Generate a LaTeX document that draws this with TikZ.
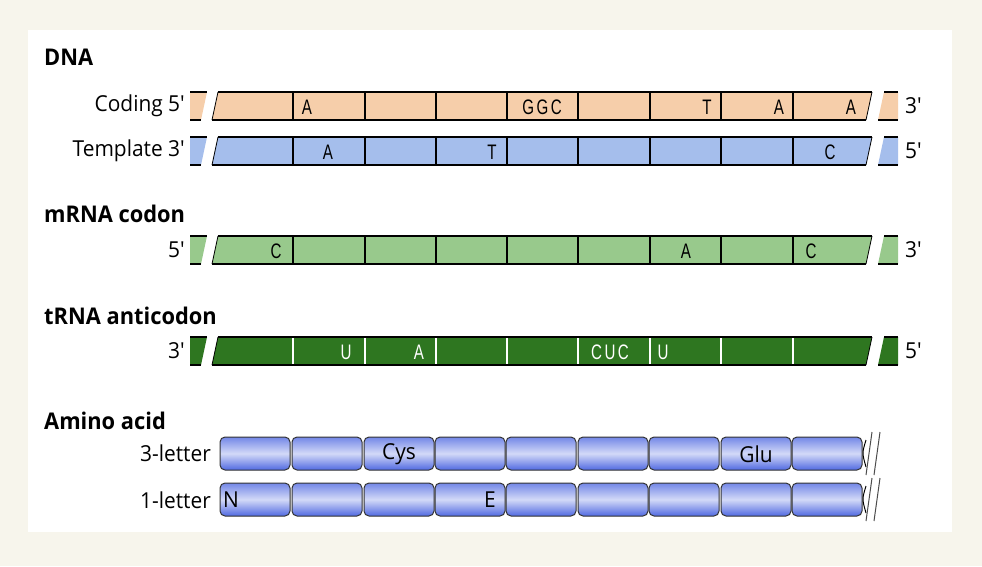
\documentclass[tikz,border=0pt]{standalone}
\usepackage{fontspec}
\setmainfont{Open Sans}
\newfontfamily\cond{Liberation Sans}
\definecolor{bgout}{RGB}{247,245,236}
\definecolor{peach}{RGB}{246,206,170}
\definecolor{tblue}{RGB}{165,190,236}
\definecolor{mgreen}{RGB}{152,201,140}
\definecolor{tgreen}{RGB}{46,118,32}
\definecolor{pblue}{RGB}{80,105,225}
\begin{document}
\begin{tikzpicture}[x=1pt,y=-1pt,
  lab/.style={font=\fontsize{22}{22}\selectfont,inner sep=0pt,xscale=0.95},
  head/.style={font=\bfseries\fontsize{23}{23}\selectfont,inner sep=0pt,anchor=west,xscale=0.95},
  base/.style={font=\cond\fontsize{21}{21}\selectfont,inner sep=0pt,xscale=0.72},
  pill/.style={rounded corners=5pt,draw=black!80,line width=1pt,top color=pblue!80,bottom color=pblue,middle color=white!75!pblue},
]
\useasboundingbox (0,0) rectangle (982,566);
\fill[bgout] (0,0) rectangle (982,566);
\fill[white] (28,30) rectangle (952,532);
\newcommand{\brow}[3]{% y top, fill, divider colour
  \fill[#2] (190,#1) -- (207,#1) -- (201,#1+28) -- (190,#1+28) -- cycle;
  \draw[line width=2pt] (190,#1) -- (207,#1) (190,#1+28) -- (201,#1+28);
  \fill[#2] (218,#1) -- (872,#1) -- (866,#1+28) -- (212,#1+28) -- cycle;
  \draw[line width=2pt] (218,#1) -- (872,#1) (212,#1+28) -- (866,#1+28);
  \draw[line width=0.8pt] (218,#1) -- (212,#1+28) (872,#1) -- (866,#1+28);
  \fill[#2] (884,#1) -- (898,#1) -- (898,#1+28) -- (878,#1+28) -- cycle;
  \draw[line width=2pt] (884,#1) -- (898,#1) (878,#1+28) -- (898,#1+28);
  \foreach \xx in {293,365,436,507,578,650,721,793}
    \draw[#3,line width=1.6pt] (\xx,#1+1) -- (\xx,#1+27);
}
\node[head] (dna) at (44,57) {DNA};
\brow{92}{peach}{black}
\node[lab,anchor=east] (lc) at (185,106) {Coding 5′};
\node[lab,anchor=west] (rc) at (905,106) {3′};
\node[base] (c1) at (307,107) {A};
\node[base] (c2) at (542,107) {G\,G\,C};
\node[base] (c3) at (707,107) {T};
\node[base] (c4) at (779,107) {A};
\node[base] (c5) at (851,107) {A};
\brow{137}{tblue}{black}
\node[lab,anchor=east] (lt) at (185,151) {Template 3′};
\node[lab,anchor=west] (rt) at (905,151) {5′};
\node[base] (t1) at (328,152) {A};
\node[base] (t2) at (492,152) {T};
\node[base] (t3) at (830,152) {C};
\node[head] (mh) at (44,214) {mRNA codon};
\brow{236}{mgreen}{black}
\node[lab,anchor=east] (lm) at (185,250) {5′};
\node[lab,anchor=west] (rm) at (905,250) {3′};
\node[base] (m1) at (276,251) {C};
\node[base] (m2) at (686,251) {A};
\node[base] (m3) at (811,251) {C};
\node[head] (th) at (44,316) {tRNA anticodon};
\brow{337}{tgreen}{white}
\node[lab,anchor=east] (ltr) at (185,351) {3′};
\node[lab,anchor=west] (rtr) at (905,351) {5′};
\begin{scope}[every node/.style={base,text=white}]
\node (r1) at (346,352) {U};
\node (r2) at (419,352) {A};
\node (r3) at (610,352) {C\,U\,C};
\node (r4) at (663,352) {U};
\end{scope}
\node[head] (ah) at (44,421) {Amino acid};
\node[lab,anchor=east] (l3) at (211,453) {3-letter};
\node[lab,anchor=east] (l1) at (211,500) {1-letter};
\foreach \yy/\nm in {437/a,483/b}{
  \foreach \xx [count=\i] in {220,292,364,435,506,578,649,721,792}
    \draw[pill] (\xx,\yy) rectangle (\xx+70,\yy+33);
  \draw[line width=1pt] (866,\yy+3) .. controls (862,\yy+16) .. (866,\yy+30);
  \draw[black!70,line width=1pt] (872,\yy-5) -- (866,\yy+38) (880,\yy-5) -- (874,\yy+38);
}
\node[lab] (cys) at (399,454) {Cys};
\node[lab] (glu) at (756,454) {Glu};
\node[lab,anchor=west] (n) at (223,500) {N};
\node[lab] (e) at (490,500) {E};
\end{tikzpicture}
\end{document}
